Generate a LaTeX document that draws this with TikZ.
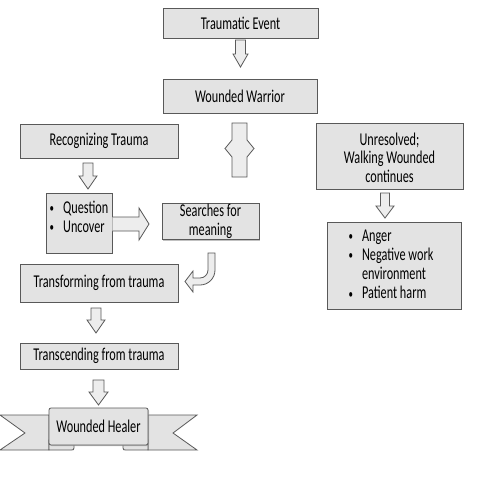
\documentclass[tikz,border=0pt]{standalone}
\usepackage{fontspec}
\setmainfont{Carlito}[FakeStretch=0.68]
\usetikzlibrary{shadows}
\newcommand\dnarrow[6]{\draw[barrow] ({#1-#4},#2) -- ({#1+#4},#2) -- ({#1+#4},#6) -- ({#1+#5},#6) -- (#1,#3) -- ({#1-#5},#6) -- ({#1-#4},#6) -- cycle;}
\newcommand\smallbul{\raisebox{0.5pt}{\fontsize{13}{13}\selectfont\textbullet}}
\begin{document}
\begin{tikzpicture}[x=1pt,y=-1pt,
  font=\fontsize{18}{18.3}\selectfont,
  box/.style={draw=black!65, fill=black!11, line width=0.8pt, inner sep=0pt, align=center,
    drop shadow={shadow xshift=1.2pt,shadow yshift=-1.2pt,fill=black!40,opacity=0.6}},
  barrow/.style={draw=black!65, fill=black!7, line width=0.8pt, line join=miter},
  rib/.style={draw=black!65, fill=black!11, line width=0.8pt, line join=miter},
  txt/.style={inner sep=0pt, align=left}]
\useasboundingbox[fill=white] (0,0) rectangle (480,480);

% boxes
\node[box, minimum width=155, minimum height=30] (te) at (240.5,23) {Traumatic Event};
\node[box, minimum width=154, minimum height=34] (ww) at (240,96) {Wounded Warrior};
\node[box, minimum width=158, minimum height=34] (rt) at (99,141) {Recognizing Trauma};
\node[box, minimum width=66, minimum height=60] (qu) at (79,223) {};
\node[txt] (qut) at (79,219) {\renewcommand\arraystretch{1.05}\begin{tabular}{@{}l@{\hspace{9pt}}l@{}}\smallbul & Question\\ \smallbul & Uncover\end{tabular}};
\node[box, minimum width=97, minimum height=36, font=\fontsize{18}{19}\selectfont] (sm) at (210.5,221.5) {Searches for\\meaning};
\node[box, minimum width=158, minimum height=38] (tf) at (99,283) {Transforming from trauma};
\node[box, minimum width=158, minimum height=26] (tc) at (99,356) {Transcending from trauma};
\node[box, minimum width=147, minimum height=66] (un) at (389.5,156) {};
\node[txt, align=center, font=\fontsize{18}{18.6}\selectfont] (unt) at (389.5,157.5) {Unresolved;\\Walking Wounded\\continues};
\node[box, minimum width=134, minimum height=87] (bx) at (394,265.5) {};
\node[txt] (bxt) at (391,266) {\renewcommand\arraystretch{1.05}\begin{tabular}{@{}l@{\hspace{9pt}}l@{}}\smallbul & Anger\\ \smallbul & Negative work\\ & environment\\ \smallbul & Patient harm\end{tabular}};

% ribbon
\draw[rib] (0,415) -- (49,415) -- (49,450) -- (0,450) -- (25,433) -- cycle;
\draw[rib] (197,415) -- (148,415) -- (148,450) -- (197,450) -- (173,433) -- cycle;
\draw[rib] (49,440) -- (72,440) .. controls (74,440) and (74,441) .. (74,443) -- (74,448) .. controls (74,450) and (73,450) .. (71,450) -- (49,450) -- cycle;
\draw[rib] (148,440) -- (125,440) .. controls (123,440) and (123,441) .. (123,443) -- (123,448) .. controls (123,450) and (124,450) .. (126,450) -- (148,450) -- cycle;
\node[box, rounded corners=2pt, minimum width=99, minimum height=37] (wh) at (98.5,426.5) {Wounded Healer};

% block arrows
\dnarrow{240.5}{40}{67}{5}{7.5}{54}
\dnarrow{88}{163}{189}{5}{9}{176}
\dnarrow{96}{308}{333}{5}{9}{320}
\dnarrow{98.5}{380}{405}{5.5}{9.5}{392}
\dnarrow{385}{193}{218}{4.5}{9}{206}

% right arrow from question box
\draw[barrow] (qu.east |- 0,217) -- (139,217) -- (139,208) -- (149,224) -- (139,240) -- (139,231) -- (qu.east |- 0,231);
% double-headed vertical
\draw[barrow] (232,123) -- (247,123) -- (247,140) -- (254,148.5) -- (247,157) -- (247,177) -- (232,177) -- (232,157) -- (225,148.5) -- (232,140) -- cycle;
% curved arrow
\draw[barrow] (208,253) -- (215,253) -- (215,270) .. controls (215,278.3) and (208.3,285) .. (200,285) -- (193,285) -- (193,292) -- (185,281.5) -- (193,271) -- (193,278) -- (200,278) .. controls (204.4,278) and (208,274.4) .. (208,270) -- cycle;
\end{tikzpicture}
\end{document}
